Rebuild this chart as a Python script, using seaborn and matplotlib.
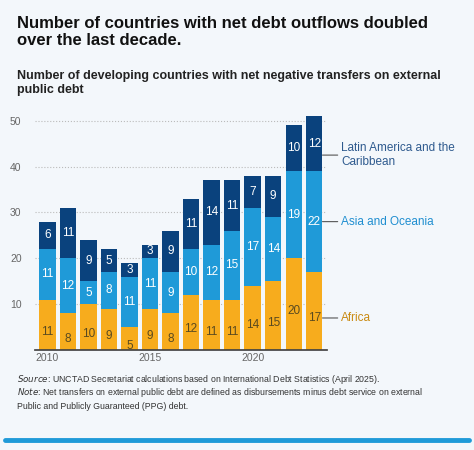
import numpy as np
import pandas as pd
import matplotlib
matplotlib.use("Agg")
import matplotlib.pyplot as plt
import seaborn as sns

years = list(range(2010, 2024))
africa = [11, 8, 10, 9, 5, 9, 8, 12, 11, 11, 14, 15, 20, 17]
asia = [11, 12, 5, 8, 11, 11, 9, 10, 12, 15, 17, 14, 19, 22]
latam = [6, 11, 9, 5, 3, 3, 9, 11, 14, 11, 7, 9, 10, 12]
series_names = ["Africa", "Asia and Oceania", "Latin America and the\nCaribbean"]
colors = ["#f7ac1d", "#1f9ad8", "#0a427d"]
label_colors = ["#c98a12", "#1f8ed0", "#2e5a8e"]
text_colors = ["#5a4a20", "white", "white"]

sns.set_theme(style="white")
plt.rcParams['font.family'] = ['Liberation Sans', 'DejaVu Sans']
bg = "#f3f7fb"
fig = plt.figure(figsize=(4.74, 4.5), dpi=100, facecolor=bg)
ax = fig.add_axes([0.074, 0.222, 0.615, 0.52], facecolor=bg)

df = pd.DataFrame({"year": years, "Africa": africa, "Asia": asia, "LatAm": latam})
bottoms = np.zeros(len(years))
for i, col in enumerate(["Africa", "Asia", "LatAm"]):
    sns.barplot(data=df, x="year", y=col, native_scale=True, color=colors[i],
                bottom=bottoms.copy(), width=0.8, ax=ax, saturation=1, edgecolor="none")
    vals = df[col].values
    for x, b, v in zip(years, bottoms, vals):
        ax.text(x, b + v / 2 - (0.0 if i else 1.5), str(v), ha="center", va="center",
                fontsize=8.5, color=text_colors[i])
    bottoms = bottoms + vals

ax.set_xlim(2009.4, 2023.6)
ax.set_ylim(0, 51)
ax.set_yticks([10, 20, 30, 40, 50])
ax.set_xticks([2010, 2015, 2020])
ax.tick_params(axis="both", labelsize=7.5, colors="#666666", length=0)
ax.tick_params(axis="x", pad=2)
ax.yaxis.grid(True, linestyle=":", color="#bbbbbb", linewidth=0.8)
ax.set_axisbelow(True)
ax.set_xlabel("")
ax.set_ylabel("")
for s in ["top", "right", "left"]:
    ax.spines[s].set_visible(False)
ax.spines["bottom"].set_color("#444444")
for lab in ax.get_yticklabels():
    lab.set_horizontalalignment("left")
ax.tick_params(axis="y", pad=18)

last_b = [0, africa[-1], africa[-1] + asia[-1]]
last_v = [africa[-1], asia[-1], latam[-1]]
for i in range(3):
    ymid = last_b[i] + last_v[i] / 2 - (1.5 if i == 0 else 0)
    if i == 2:
        ymid = 42.5
    ax.annotate(series_names[i], xy=(2023.4, ymid), xytext=(2024.3, ymid),
                xycoords="data", textcoords="data", ha="left", va="center",
                fontsize=8.5, color=label_colors[i], annotation_clip=False,
                arrowprops=dict(arrowstyle="-", color="#555555", lw=0.8,
                                shrinkA=0, shrinkB=0))

fig.text(0.035, 0.965, "Number of countries with net debt outflows doubled\nover the last decade.",
         fontsize=12, fontweight="bold", color="#111111", va="top", linespacing=1.2)
fig.text(0.035, 0.845, "Number of developing countries with net negative transfers on external\npublic debt",
         fontsize=9, fontweight="bold", color="#222222", va="top", linespacing=1.3)
fig.text(0.035, 0.172, "$\\it{Source}$: UNCTAD Secretariat calculations based on International Debt Statistics (April 2025).",
         fontsize=6.3, color="#333333", va="top")
fig.text(0.035, 0.142, "$\\it{Note}$: Net transfers on external public debt are defined as disbursements minus debt service on external\nPublic and Publicly Guaranteed (PPG) debt.",
         fontsize=6.3, color="#333333", va="top", linespacing=1.4)
fig.add_artist(plt.Line2D([0.01, 0.99], [0.022, 0.022], color="#1f9ad8", lw=3.5,
                          transform=fig.transFigure))
fig.savefig("out.png", dpi=100, facecolor=bg)
